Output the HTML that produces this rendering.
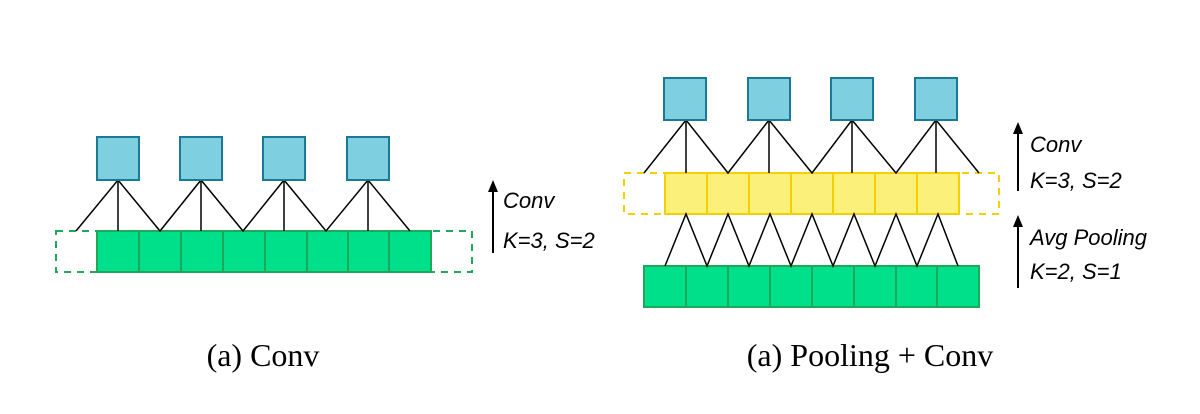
<!DOCTYPE html>
<html><head><style>body{margin:0;background:#fff}svg{display:block}</style></head><body>
<svg width="1200" height="414" viewBox="0 0 1200 414" xmlns="http://www.w3.org/2000/svg">
<g font-family="'Liberation Sans',sans-serif" font-style="italic" font-size="22" fill="#000">
<!-- LEFT -->
<rect x="56" y="231" width="416" height="41" fill="none" stroke="#1fa85a" stroke-width="2" stroke-dasharray="7,6"/>
<g fill="#00e08a" stroke="#1fa85a" stroke-width="2">
<rect x="97" y="231" width="42" height="41"/><rect x="139" y="231" width="42" height="41"/><rect x="181" y="231" width="42" height="41"/><rect x="223" y="231" width="42" height="41"/><rect x="265" y="231" width="42" height="41"/><rect x="307" y="231" width="41" height="41"/><rect x="348" y="231" width="41" height="41"/><rect x="389" y="231" width="42" height="41"/>
</g>
<g stroke="#000" stroke-width="1.5" fill="none">
<path d="M76,231 L118,180 L160,231 L201,180 L243,231 L284,180 L326,231 L368,180 L410,231"/>
<path d="M118,180V231M201,180V231M284,180V231M368,180V231"/>
</g>
<g fill="#7ecfe0" stroke="#1a7a96" stroke-width="2">
<rect x="97" y="137" width="42" height="43"/><rect x="180" y="137" width="42" height="43"/><rect x="263" y="137" width="42" height="43"/><rect x="347" y="137" width="42" height="43"/>
</g>
<line x1="493" y1="253" x2="493" y2="190" stroke="#000" stroke-width="2"/>
<polygon points="488,192 493,180 498,192" fill="#000"/>
<text x="503" y="208">Conv</text>
<text x="503" y="248">K=3, S=2</text>
<!-- RIGHT -->
<rect x="624" y="173" width="375" height="41" fill="none" stroke="#f5d000" stroke-width="2" stroke-dasharray="7,6"/>
<g fill="#faf07a" stroke="#f5d000" stroke-width="2">
<rect x="665" y="173" width="42" height="41"/><rect x="707" y="173" width="42" height="41"/><rect x="749" y="173" width="42" height="41"/><rect x="791" y="173" width="42" height="41"/><rect x="833" y="173" width="42" height="41"/><rect x="875" y="173" width="42" height="41"/><rect x="917" y="173" width="42" height="41"/>
</g>
<g fill="#00e08a" stroke="#1fa85a" stroke-width="2">
<rect x="644" y="266" width="42" height="41"/><rect x="686" y="266" width="42" height="41"/><rect x="728" y="266" width="42" height="41"/><rect x="770" y="266" width="42" height="41"/><rect x="812" y="266" width="42" height="41"/><rect x="854" y="266" width="42" height="41"/><rect x="896" y="266" width="41" height="41"/><rect x="937" y="266" width="42" height="41"/>
</g>
<g stroke="#000" stroke-width="1.5" fill="none">
<path d="M644,173 L686,120 L728,173 L769,120 L812,173 L852,120 L896,173 L936,120 L979,173"/>
<path d="M686,120V173M769,120V173M852,120V173M936,120V173"/>
<path d="M665,266 L686,214 L707,266 L728,214 L749,266 L770,214 L791,266 L812,214 L833,266 L854,214 L875,266 L896,214 L917,266 L938,214 L958,266"/>
</g>
<g fill="#7ecfe0" stroke="#1a7a96" stroke-width="2">
<rect x="664" y="78" width="42" height="42"/><rect x="748" y="78" width="42" height="42"/><rect x="831" y="78" width="42" height="42"/><rect x="915" y="78" width="42" height="42"/>
</g>
<line x1="1018" y1="191" x2="1018" y2="132" stroke="#000" stroke-width="2"/>
<polygon points="1013,134 1018,122 1023,134" fill="#000"/>
<line x1="1018" y1="288" x2="1018" y2="225" stroke="#000" stroke-width="2"/>
<polygon points="1013,227 1018,215 1023,227" fill="#000"/>
<text x="1030" y="152">Conv</text>
<text x="1030" y="188">K=3, S=2</text>
<text x="1030" y="245">Avg Pooling</text>
<text x="1030" y="279">K=2, S=1</text>
</g>
<g font-family="'Liberation Serif',serif" font-size="32" fill="#000" text-anchor="middle">
<text x="263" y="366">(a) Conv</text>
<text x="870" y="366">(a) Pooling + Conv</text>
</g>
</svg>
</body></html>
